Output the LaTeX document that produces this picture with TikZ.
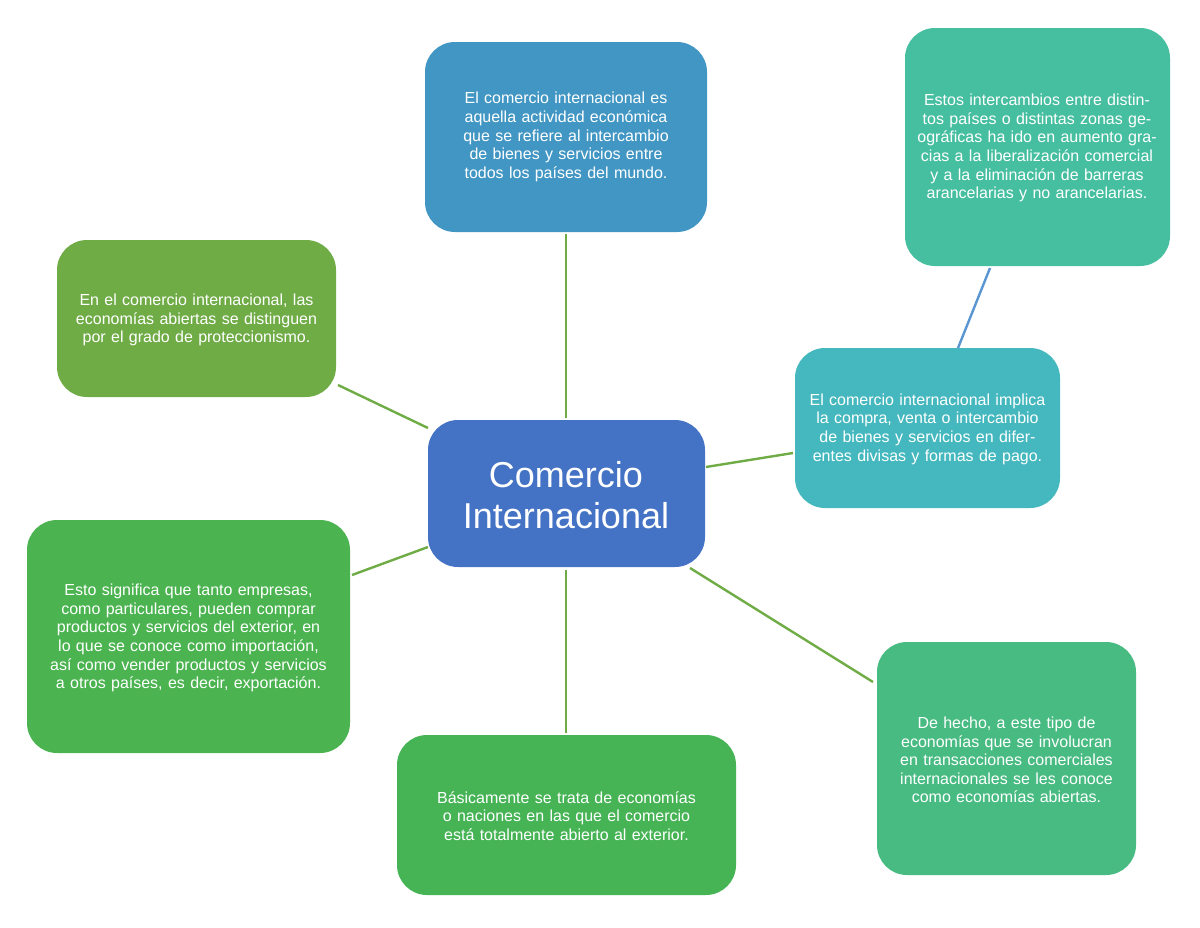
\documentclass[tikz,border=0pt]{standalone}
\usepackage{fontspec}
\setmainfont{Liberation Sans}
\definecolor{cCenter}{RGB}{68,114,196}
\definecolor{cTop}{RGB}{66,150,195}
\definecolor{cTR}{RGB}{70,190,160}
\definecolor{cR}{RGB}{68,184,190}
\definecolor{cBR}{RGB}{72,187,130}
\definecolor{cB}{RGB}{70,180,85}
\definecolor{cLB}{RGB}{75,180,80}
\definecolor{cLT}{RGB}{112,172,70}
\definecolor{cLine}{RGB}{112,172,70}
\definecolor{cBlue}{RGB}{90,150,210}
\begin{document}
\begin{tikzpicture}[x=0.5pt,y=-0.5pt,
  box/.style={rounded corners=15pt,text=white,align=center,inner sep=0pt,font=\fontsize{8}{9.3}\selectfont},
  link/.style={cLine,line width=1.2pt}]
\useasboundingbox (0,0) rectangle (1200,927);
\newcommand\bx[6]{\fill[#6,rounded corners=15pt] (#2,#3) rectangle (#4,#5);
 \node[box,text width=(#4-#2-36)*0.5pt] (#1) at ({(#2+#4)/2},{(#3+#5)/2}) {};}
% center
\fill[cCenter,rounded corners=15pt] (428,420) rectangle (705,567);
\node[inner sep=0pt,minimum width=138pt,minimum height=73pt] (c) at (566.5,493.5) {};
\node[text=white,align=center,font=\fontsize{18}{20.5}\selectfont] at (566,495) {Comercio\\Internacional};
% boxes
\fill[cTop,rounded corners=15pt] (425,42) rectangle (707,232);
\node[inner sep=0pt,minimum width=141pt,minimum height=95pt] (t) at (566,137) {};
\node[box,text width=125pt] at (566,137) {El comercio internacional es aquella actividad económica que se refiere al intercambio de bienes y servicios entre todos los países del mundo.};
\fill[cTR,rounded corners=15pt] (905,28) rectangle (1170,266);
\node[inner sep=0pt,minimum width=132pt,minimum height=119pt] (tr) at (1037,147) {};
\node[box,text width=120pt] at (1037,148) {Estos intercambios entre distintos países o distintas zonas geográficas ha ido en aumento gracias a la liberalización comercial y a la eliminación de barreras arancelarias y no arancelarias.};
\fill[cR,rounded corners=15pt] (795,348) rectangle (1060,508);
\node[inner sep=0pt,minimum width=132pt,minimum height=80pt] (r) at (927.5,428) {};
\node[box,text width=120pt] at (927.5,429) {El comercio internacional implica la compra, venta o intercambio de bienes y servicios en diferentes divisas y formas de pago.};
\fill[cBR,rounded corners=15pt] (877,642) rectangle (1136,875);
\node[inner sep=0pt,minimum width=129pt,minimum height=116pt] (br) at (1006.5,758.5) {};
\node[box,text width=118pt] at (1006.5,760) {De hecho, a este tipo de economías que se involucran en transacciones comerciales internacionales se les conoce como economías abiertas.};
\fill[cB,rounded corners=15pt] (397,735) rectangle (736,895);
\node[inner sep=0pt,minimum width=169pt,minimum height=80pt] (b) at (566.5,815) {};
\node[box,text width=160pt] at (566.5,816) {Básicamente se trata de economías o naciones en las que el comercio está totalmente abierto al exterior.};
\fill[cLB,rounded corners=15pt] (27,520) rectangle (350,753);
\node[inner sep=0pt,minimum width=161pt,minimum height=116pt] (lb) at (188.5,636.5) {};
\node[box,text width=150pt] at (188.5,638) {Esto significa que tanto empresas, como particulares, pueden comprar productos y servicios del exterior, en lo que se conoce como importación, así como vender productos y servicios a otros países, es decir, exportación.};
\fill[cLT,rounded corners=15pt] (57,240) rectangle (336,397);
\node[inner sep=0pt,minimum width=139pt,minimum height=78pt] (lt) at (196.5,318.5) {};
\node[box,text width=130pt] at (196.5,320) {En el comercio internacional, las economías abiertas se distinguen por el grado de proteccionismo.};
% connectors
\coordinate (c1) at (566,418); \coordinate (t1) at (566,234);
\draw[link] (t1) -- (c1);
\coordinate (c2) at (428,428); \coordinate (lt1) at (338,385);
\draw[link] (lt1) -- (c2);
\coordinate (c3) at (428,547); \coordinate (lb1) at (352,575);
\draw[link] (lb1) -- (c3);
\coordinate (c4) at (566,570); \coordinate (b1) at (566,733);
\draw[link] (c4) -- (b1);
\coordinate (c5) at (690,568); \coordinate (br1) at (873,682);
\draw[link] (c5) -- (br1);
\coordinate (c6) at (706,467); \coordinate (r1) at (793,453);
\draw[link] (c6) -- (r1);
\coordinate (r2) at (958,348); \coordinate (tr1) at (990,268);
\draw[cBlue,line width=1.2pt] (r2) -- (tr1);
\end{tikzpicture}
\end{document}
